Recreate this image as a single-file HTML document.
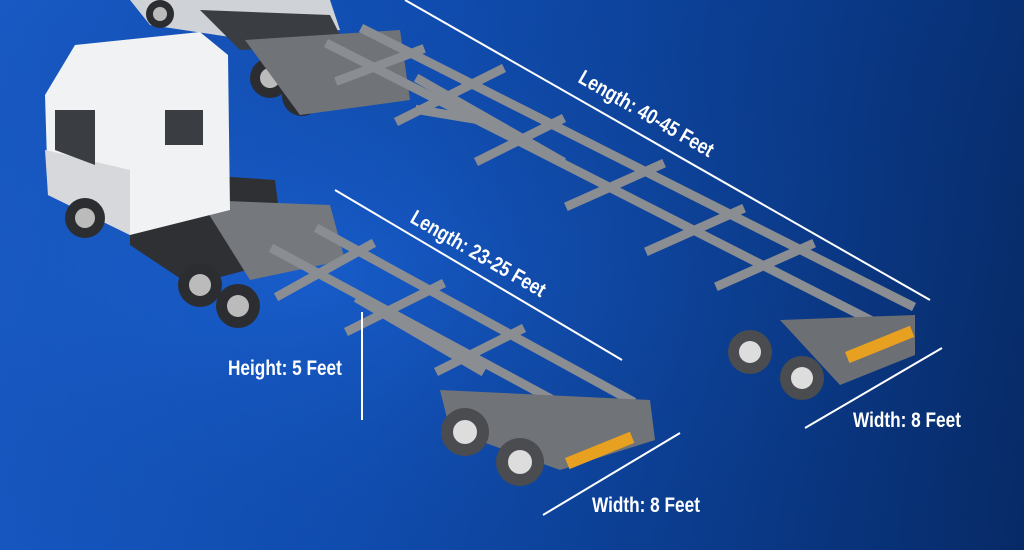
<!DOCTYPE html>
<html><head><meta charset="utf-8"><style>
html,body{margin:0;padding:0}
body{width:1024px;height:550px;overflow:hidden;background:linear-gradient(100deg,#1a5fd0 0%,#1050b8 40%,#0a3a8a 75%,#072a66 100%);position:relative;font-family:"Liberation Sans",sans-serif}
svg{position:absolute;left:0;top:0}
.t{position:absolute;color:#fff;font-weight:bold;font-size:21px;white-space:nowrap;transform-origin:0 0}
</style></head><body>
<svg width="1024" height="550" viewBox="0 0 1024 550">
<defs><radialGradient id="v" cx="0.3" cy="0.5" r="0.8"><stop offset="0" stop-color="#1e66d8" stop-opacity="0.5"/><stop offset="1" stop-color="#05204f" stop-opacity="0"/></radialGradient></defs>
<rect width="1024" height="550" fill="url(#v)"/>
<!-- back truck -->
<polygon points="130,0 330,0 340,30 250,40 150,25" fill="#cfd2d6"/>
<polygon points="200,10 330,15 345,45 240,50" fill="#3a3d42"/>
<circle cx="160" cy="14" r="14" fill="#2b2d31"/><circle cx="160" cy="14" r="7" fill="#bbb"/>
<circle cx="270" cy="78" r="20" fill="#2b2d31"/><circle cx="270" cy="78" r="10" fill="#bbb"/>
<circle cx="302" cy="96" r="20" fill="#2b2d31"/><circle cx="302" cy="96" r="10" fill="#bbb"/>
<polygon points="245,40 400,30 410,100 300,115" fill="#707378"/>
<!-- long trailer -->
<g stroke="#8a8d92" stroke-width="9" fill="none" stroke-linecap="square">
<line x1="330" y1="45" x2="880" y2="325"/>
<line x1="365" y1="30" x2="910" y2="305"/>
<line x1="340" y1="80" x2="420" y2="50"/>
<line x1="400" y1="120" x2="500" y2="70"/>
<line x1="480" y1="160" x2="560" y2="120"/>
<line x1="570" y1="205" x2="660" y2="165"/>
<line x1="650" y1="250" x2="740" y2="210"/>
<line x1="720" y1="285" x2="810" y2="245"/>
<line x1="420" y1="80" x2="560" y2="160"/>
<line x1="480" y1="120" x2="420" y2="110"/>
</g>
<polygon points="780,320 915,315 915,355 840,385" fill="#6c6f74"/>
<circle cx="750" cy="352" r="22" fill="#4a4c50"/><circle cx="750" cy="352" r="11" fill="#ddd"/>
<circle cx="802" cy="378" r="22" fill="#4a4c50"/><circle cx="802" cy="378" r="11" fill="#ddd"/>
<rect x="845" y="352" width="70" height="12" fill="#e8a020" transform="rotate(-22 845 352)"/>
<!-- front truck chassis -->
<polygon points="130,170 275,180 285,260 190,285 130,245" fill="#2e3034"/>
<polygon points="200,200 330,205 345,260 250,280" fill="#75787d"/>
<circle cx="200" cy="285" r="22" fill="#2b2d31"/><circle cx="200" cy="285" r="11" fill="#bbb"/>
<circle cx="238" cy="306" r="22" fill="#2b2d31"/><circle cx="238" cy="306" r="11" fill="#bbb"/>
<!-- cab -->
<polygon points="45,95 75,45 200,32 228,55 230,210 130,235 48,195" fill="#f1f2f3"/>
<polygon points="45,150 130,170 130,235 48,195" fill="#d6d8db"/>
<polygon points="55,110 95,110 95,165 55,150" fill="#3a3d42"/>
<rect x="165" y="110" width="38" height="35" fill="#3a3d42"/>
<circle cx="85" cy="218" r="20" fill="#2b2d31"/><circle cx="85" cy="218" r="10" fill="#bbb"/>
<!-- short trailer -->
<g stroke="#8a8d92" stroke-width="9" fill="none" stroke-linecap="square">
<line x1="275" y1="250" x2="590" y2="420"/>
<line x1="320" y1="230" x2="630" y2="400"/>
<line x1="280" y1="295" x2="370" y2="245"/>
<line x1="350" y1="330" x2="440" y2="285"/>
<line x1="440" y1="370" x2="520" y2="330"/>
<line x1="360" y1="300" x2="480" y2="370"/>
</g>
<polygon points="440,390 650,400 655,440 560,470 450,430" fill="#707378"/>
<circle cx="465" cy="432" r="24" fill="#4a4c50"/><circle cx="465" cy="432" r="12" fill="#ddd"/>
<circle cx="520" cy="462" r="24" fill="#4a4c50"/><circle cx="520" cy="462" r="12" fill="#ddd"/>
<rect x="565" y="458" width="70" height="12" fill="#e8a020" transform="rotate(-22 565 458)"/>
<!-- dimension lines -->
<g stroke="#fff" stroke-width="2">
<line x1="405" y1="0" x2="930" y2="300"/>
<line x1="335" y1="190" x2="622" y2="360"/>
<line x1="362" y1="312" x2="362" y2="420"/>
<line x1="543" y1="515" x2="680" y2="433"/>
<line x1="805" y1="428" x2="942" y2="348"/>
</g>
</svg>
<div class="t" style="left:586px;top:66px;transform:rotate(30deg) scaleX(0.82)">Length: 40-45 Feet</div>
<div class="t" style="left:418px;top:206px;transform:rotate(30deg) scaleX(0.82)">Length: 23-25 Feet</div>
<div class="t" style="left:228px;top:357px;transform:scaleX(0.82)">Height: 5 Feet</div>
<div class="t" style="left:592px;top:494px;transform:scaleX(0.82)">Width: 8 Feet</div>
<div class="t" style="left:853px;top:409px;transform:scaleX(0.82)">Width: 8 Feet</div>
</body></html>
